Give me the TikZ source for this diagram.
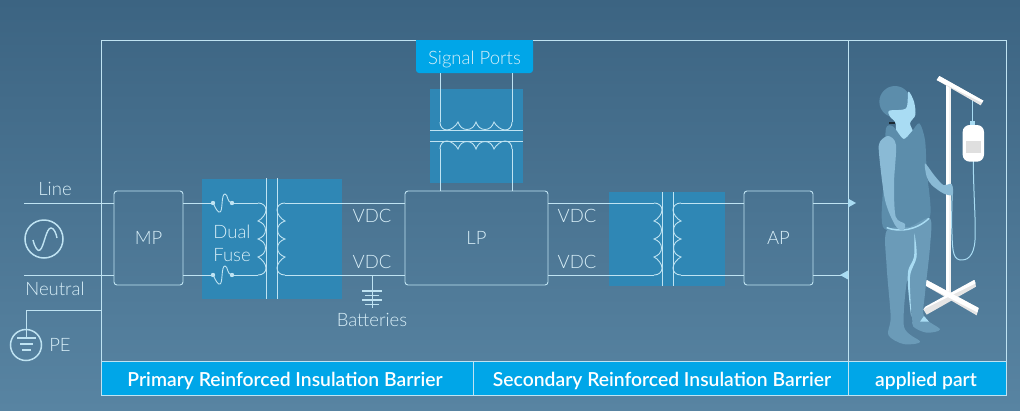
\documentclass[tikz,border=0pt]{standalone}
\usepackage{fontspec}
\setmainfont{Lato}
\newfontfamily\lightfont{Lato Light}
\newfontfamily\mediumfont{Lato Semibold}
\definecolor{wirecol}{HTML}{BFE3F2}
\definecolor{textcol}{HTML}{D8EFF8}
\definecolor{zonecol}{HTML}{2F87B5}
\definecolor{bandcol}{HTML}{00A6E8}
\definecolor{skincol}{HTML}{A9DCF3}
\definecolor{armcol}{HTML}{8ABAD5}
\definecolor{vestcol}{HTML}{5C8DAB}
\definecolor{legcol}{HTML}{6B9BB8}
\tikzset{
	coil/.pic={
		\draw [wire] (-8,-36) .. controls (-3,-36) and (0,-33) .. (0,-29)
			.. controls (0,-25) and (-4,-20) .. (-8,-18)
			.. controls (2,-15) and (2,-3) .. (-8,0)
			.. controls (2,3) and (2,15) .. (-8,18)
			.. controls (-4,20) and (0,25) .. (0,29)
			.. controls (0,33) and (-3,36) .. (-8,36);
	},
	fuse/.pic={
		\fill [wirecol] (0,0) circle (2.2) (19,0) circle (2.2);
		\draw [wire] (0,0) .. controls (3,6) and (5,10) .. (7,9)
			.. controls (10,8) and (8,-9) .. (12,-9)
			.. controls (15,-9) and (14,0) .. (19,0);
	}
}
\begin{document}
\begin{tikzpicture}[x=1pt,y=-1pt]
	\tikzstyle{wire}=[draw=wirecol,line width=0.9pt]
	\tikzstyle{block}=[draw=wirecol,line width=0.9pt,rounded corners=3pt,minimum width=69pt,minimum height=94pt,inner sep=0pt,text=textcol,font=\lightfont\fontsize{18.5}{22}\selectfont]
	\tikzstyle{label}=[inner sep=0pt,text=textcol,font=\lightfont\fontsize{18.5}{23}\selectfont,align=center]
	\tikzstyle{bandlabel}=[inner sep=0pt,text=white,font=\mediumfont\fontsize{19.3}{22}\selectfont]
	\tikzstyle{zone}=[fill=zonecol]
	\useasboundingbox (0,0) rectangle (1020,410);
	\shade [top color={rgb,255:red,60;green,100;blue,130}, bottom color={rgb,255:red,88;green,132;blue,162}] (0,0) rectangle (1020,410);
	\fill [zone] (202,179) rectangle (342,299);
	\fill [zone] (430,89) rectangle (523,183);
	\fill [zone] (609,192) rectangle (725,286);
	\fill [bandcol] (101,361) rectangle (1006,395);
	\draw [wire] (101,40) rectangle (1006,395);
	\draw [wire] (101,361) -- (1006,361);
	\draw [wire] (848,40) -- (848,395);
	\draw [wire] (473,361) -- (473,395);
	\node [bandlabel] (barrierA) at (285,380.5) {Primary Reinforced Insulation Barrier};
	\node [bandlabel] (barrierB) at (662,380.5) {Secondary Reinforced Insulation Barrier};
	\node [bandlabel] (barrierC) at (926,380.5) {applied part};
	\node [block] (MP) at (148.5,238) {MP};
	\node [block,minimum width=143pt] (LP) at (476.5,238) {LP};
	\node [block] (AP) at (778.5,238) {AP};
	\fill [bandcol,rounded corners=3pt] (416,40) rectangle (533,73);
	\fill [bandcol] (416,40) rectangle (533,55);
	\node [label] (ports) at (474.5,59) {Signal Ports};
	\node [label] (line) at (55,189) {Line};
	\node [label] (neutral) at (55,289) {Neutral};
	\node [label] (PElabel) at (60,345) {PE};
	\node [label] (dual) at (232,243) {Dual\\Fuse};
	\node [label] (vdcA) at (372,216) {VDC};
	\node [label] (vdcB) at (372,262) {VDC};
	\node [label] (vdcC) at (577,216) {VDC};
	\node [label] (vdcD) at (577,262) {VDC};
	\node [label] (batt) at (372,320) {Batteries};
	\coordinate (lineIn) at (24,203);
	\coordinate (neutralIn) at (24,275);
	\coordinate (mpA) at (MP.west |- lineIn);
	\coordinate (mpB) at (MP.west |- neutralIn);
	\coordinate (mpC) at (MP.east |- lineIn);
	\coordinate (mpD) at (MP.east |- neutralIn);
	\coordinate (fuseA) at (213,203);
	\coordinate (fuseB) at (213,275);
	\coordinate (fuseC) at (232,203);
	\coordinate (fuseD) at (232,275);
	\coordinate (coilA) at (258,203);
	\coordinate (coilB) at (258,275);
	\coordinate (coilC) at (285,203);
	\coordinate (coilD) at (285,275);
	\coordinate (lpA) at (LP.west |- lineIn);
	\coordinate (lpB) at (LP.west |- neutralIn);
	\coordinate (lpC) at (LP.east |- lineIn);
	\coordinate (lpD) at (LP.east |- neutralIn);
	\coordinate (coilE) at (654,203);
	\coordinate (coilF) at (654,275);
	\coordinate (coilG) at (681,203);
	\coordinate (coilH) at (681,275);
	\coordinate (apA) at (AP.west |- lineIn);
	\coordinate (apB) at (AP.west |- neutralIn);
	\coordinate (apC) at (AP.east |- lineIn);
	\coordinate (apD) at (AP.east |- neutralIn);
	\coordinate (outA) at (848,203);
	\coordinate (outB) at (848,275);
	\coordinate (portA) at (440,73);
	\coordinate (portB) at (512,73);
	\coordinate (coilI) at (440,122);
	\coordinate (coilJ) at (512,122);
	\coordinate (coilK) at (440,149);
	\coordinate (coilL) at (512,149);
	\coordinate (lpE) at (440,191);
	\coordinate (lpF) at (512,191);
	\coordinate (frameP) at (101,310);
	\coordinate (bendP) at (26,310);
	\coordinate (earthTop) at (26,338);
	\coordinate (tapB) at (372,275);
	\coordinate (battTop) at (372,291);
	\draw [wire] (lineIn) -- (mpA);
	\draw [wire] (neutralIn) -- (mpB);
	\draw [wire] (mpC) -- (fuseA);
	\draw [wire] (mpD) -- (fuseB);
	\draw [wire] (fuseC) -- (coilA);
	\draw [wire] (fuseD) -- (coilB);
	\draw [wire] (coilC) -- (lpA);
	\draw [wire] (coilD) -- (lpB);
	\draw [wire] (lpC) -- (coilE);
	\draw [wire] (lpD) -- (coilF);
	\draw [wire] (coilG) -- (apA);
	\draw [wire] (coilH) -- (apB);
	\draw [wire] (apC) -- (outA);
	\draw [wire] (apD) -- (outB);
	\draw [wire] (portA) -- (coilI);
	\draw [wire] (portB) -- (coilJ);
	\draw [wire] (coilK) -- (lpE);
	\draw [wire] (coilL) -- (lpF);
	\fill [skincol] (848,198.5) -- (856,203) -- (848,207.5) -- cycle;
	\fill [skincol] (848,270.5) -- (840,275) -- (848,279.5) -- cycle;
	\pic at (213,203) {fuse};
	\pic at (213,275) {fuse};
	\draw [wire] (266,178) -- (266,299);
	\draw [wire] (277,178) -- (277,299);
	\pic at (266,239) {coil};
	\pic [rotate=180] at (277,239) {coil};
	\draw [wire] (662,192) -- (662,286);
	\draw [wire] (673,192) -- (673,286);
	\pic at (662,239) {coil};
	\pic [rotate=180] at (673,239) {coil};
	\draw [wire] (430,130) -- (523,130);
	\draw [wire] (430,141) -- (523,141);
	\pic [rotate=-90] at (476,130) {coil};
	\pic [rotate=90] at (476,141) {coil};
	\node [circle,draw=wirecol,line width=1.5pt,minimum size=38pt,inner sep=0pt] (AC) at (44,239) {};
	\draw [wire,line width=1.4pt] (33,240) .. controls (35,248) and (38,252) .. (40,250) .. controls (44,247) and (46,228) .. (51,228) .. controls (54,228) and (56,233) .. (57,238);
	\node [circle,draw=wirecol,line width=1.5pt,minimum size=31pt,inner sep=0pt] (earth) at (26,345) {};
	\draw [wire] (frameP) -- (bendP) -- (earthTop);
	\draw [wire,line width=1.4pt] (17,338) -- (36,338);
	\draw [wire,line width=1.4pt] (20,344) -- (33,344);
	\draw [wire,line width=1.4pt] (22,350) -- (31,350);
	\draw [wire] (tapB) -- (battTop);
	\draw [wire,line width=1.6pt] (362,291) -- (382,291);
	\draw [wire,line width=1.6pt] (365,295.5) -- (379,295.5);
	\draw [wire,line width=1.6pt] (362,300) -- (382,300);
	\draw [wire,line width=1.6pt] (365,304.5) -- (379,304.5);
	\draw [wire] (battTop) -- (372,308);
	\begin{scope}[shift={(730,60)},xscale=1/3,yscale=1/3]
		\draw [skincol,line width=1pt] (728,120) -- (728,195);
		\draw [skincol,line width=1pt] (730,300) .. controls (730,400) and (738,480) .. (735,540) .. controls (732,590) and (710,603) .. (690,600) .. controls (665,595) and (668,560) .. (665,500) .. controls (664,450) and (668,410) .. (665,380) .. controls (660,365) and (645,372) .. (642,385);
		\fill [white!90!gray] (648,75) rectangle (662,700);
		\fill [white] (648,75) rectangle (656,700);
		\fill [white!80!gray] (620,60) -- (628,48) -- (760,122) -- (752,136) -- cycle;
		\fill [white] (620,60) -- (628,48) -- (760,122) -- (756,128) -- cycle;
		\fill [white!80!gray] (580,748) -- (590,764) -- (738,680) -- (734,660) -- cycle;
		\fill [white!80!gray] (585,676) -- (590,660) -- (746,744) -- (740,766) -- cycle;
		\fill [white] (580,748) -- (586,740) -- (732,660) -- (737,670) -- cycle;
		\fill [white] (585,676) -- (590,660) -- (746,744) -- (742,757) -- cycle;
		\fill [skincol] (720,183) rectangle (736,200);
		\fill [white,rounded corners=7pt] (698,195) rectangle (762,305);
		\fill [gray!25] (708,243) rectangle (752,280);
		\fill [vestcol] (495,125) circle (47);
		\fill [skincol] plot [smooth cycle] coordinates {(535,95) (552,125) (556,165) (540,190) (550,225) (500,240) (497,190) (480,170) (478,152) (528,145)};
		\fill [black!70!vestcol] (477,186) rectangle (495,192);
		\fill [vestcol] plot [smooth cycle] coordinates {(468,205) (490,200) (520,237) (545,215) (568,190) (585,240) (590,330) (600,470) (540,500) (470,510) (455,470) (465,300)};
		\fill [armcol] plot [smooth cycle] coordinates {(585,310) (612,345) (640,375) (665,372) (668,405) (640,400) (605,375) (590,350)};
		\fill [legcol] plot [smooth cycle] coordinates {(470,512) (540,500) (600,475) (600,560) (585,700) (582,770) (630,808) (590,818) (550,800) (546,770) (532,660) (522,800) (570,845) (520,852) (475,825) (482,770) (470,620)};
		\fill [skincol] plot [smooth cycle] coordinates {(553,520) (560,590) (540,650) (544,770) (534,680) (535,630) (552,590)};
		\fill [skincol] (570,785) -- (582,768) -- (597,785) -- cycle;
		\draw [skincol,line width=1.5pt] (470,503) .. controls (510,518) and (560,510) .. (597,475);
		\fill [armcol] plot [smooth cycle] coordinates {(475,228) (498,255) (492,370) (497,470) (525,492) (518,512) (495,495) (465,420) (447,280) (450,245)};
	\end{scope}
\end{tikzpicture}
\end{document}
